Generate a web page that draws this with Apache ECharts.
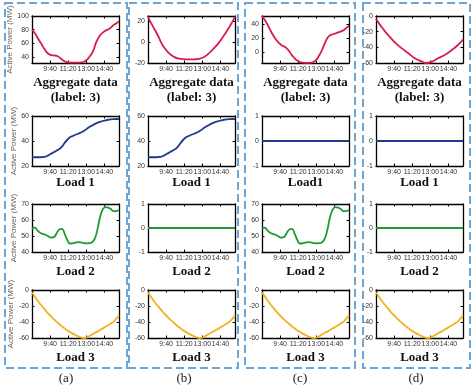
<!DOCTYPE html>
<html><head><meta charset="utf-8">
<script src="https://cdn.jsdelivr.net/npm/echarts@6/dist/echarts.min.js"></script>
<style>html,body{margin:0;padding:0;background:#fff}#c{width:474px;height:389px}</style>
</head><body><div id="c"></div>
<script>
// ---- data (minutes after 8:00) ----
const xTicks = [100, 200, 300, 400];
const xTickLabels = ['9:40', '11:20', '13:00', '14:40'];
const t15 = [0,15,30,45,60,75,90,105,120,135,150,165,180,195,210,225,240,255,270,285,300,315,330,345,360,375,390,405,420,435,450,465,480];
const load1 = [27,27,27,27,27.2,27.5,28.5,29.8,31,32.2,33.5,35.5,38.5,41,43,44,45,45.8,46.8,48,49.5,51,52.3,53.5,54.5,55.3,56,56.5,57,57.3,57.5,57.6,57.5];
const load2 = [54.5,55.2,53.5,52,51.3,50.8,49.8,49,49.3,51.5,54,54.5,51.5,47.5,45.3,45.5,45.9,46.2,46,45.6,45.4,45.5,46,48,53.5,61.5,66.5,68,67.8,66.8,65.5,65.5,66.4];
const load3 = [-3,-8,-13,-17.5,-21.5,-25.5,-29.5,-33,-36.5,-39.5,-42.5,-45.5,-48,-50.5,-52.5,-54.5,-56.3,-58,-59.3,-60,-59.5,-57.8,-55.8,-53.8,-52,-50,-48,-46,-44,-42,-39.5,-36,-31.5];
const aggA_t = [0,15,33,52,70,88,107,125,144,162,180,199,222,245,265,282,300,318,337,355,374,392,410,429,447,466,480];
const aggA = [80,75,67,59,51,45,42.4,42,40.5,37,33.5,32,31.5,31.5,31.7,32.5,35,40.5,48.5,62,71,76,79,81.5,86,89.5,92];
const aggB_t = [0,24,51,69,88,115,142,170,215,252,279,307,334,361,389,416,443,471,480];
const aggB = [24,16,7.5,1,-5,-10.5,-14,-15.8,-16.5,-16.5,-16,-14.5,-11,-6.5,-1,5.5,13,21,24.5];
const aggC_t = [0,24,52,80,108,126,145,164,182,210,238,266,294,312,331,350,368,396,424,452,480];
const aggC = [51.5,42.3,28.5,17,10,7.8,3.2,-3.7,-9.2,-13.8,-15,-15,-12,-6,3.2,14.7,22.5,26,28.5,31.7,37.7];
const aggD_t = [0,31,68,104,141,178,214,251,278,306,342,379,415,452,480];
const aggD = [-3.4,-14,-24.6,-33.7,-41,-47.6,-54,-58,-60,-58.5,-54,-49.7,-44,-37,-30];
const flat_t = [0, 480];
const flat = [0, 0];
const colLabels = ['(a)', '(b)', '(c)', '(d)'];
const rowTitles = [
  ['Aggregate data\n(label: 3)', 'Aggregate data\n(label: 3)', 'Aggregate data\n(label: 3)', 'Aggregate data\n(label: 3)'],
  ['Load 1', 'Load 1', 'Load1', 'Load 1'],
  ['Load 2', 'Load 2', 'Load 2', 'Load 2'],
  ['Load 3', 'Load 3', 'Load 3', 'Load 3']
];
const yName = 'Active Power (MW)';

// ---- styling / layout ----
const RED = '#d81c4c', BLUE = '#1f3a8a', GREEN = '#1e9a34', YEL = '#f0b21f';
const colLeft = [32, 148, 262, 376], boxW = 87;
const rowTop = [16, 116, 204, 290], rowH = [47, 50, 48, 48];
const titleY = [[83, 98], [183], [272], [358]];

const plots = [
  [
    {t: aggA_t, v: aggA, color: RED, min: 31, max: 100, ticks: [40, 60, 80, 100]},
    {t: aggB_t, v: aggB, color: RED, min: -20, max: 25, ticks: [-20, 0, 20]},
    {t: aggC_t, v: aggC, color: RED, min: -15.2, max: 51.5, ticks: [0, 20, 40]},
    {t: aggD_t, v: aggD, color: RED, min: -60, max: 0, ticks: [-60, -40, -20, 0]}
  ],
  [
    {t: t15, v: load1, color: BLUE, min: 20, max: 60, ticks: [20, 40, 60]},
    {t: t15, v: load1, color: BLUE, min: 20, max: 60, ticks: [20, 40, 60]},
    {t: flat_t, v: flat, color: BLUE, min: -1, max: 1, ticks: [-1, 0, 1]},
    {t: flat_t, v: flat, color: BLUE, min: -1, max: 1, ticks: [-1, 0, 1]}
  ],
  [
    {t: t15, v: load2, color: GREEN, min: 40, max: 70, ticks: [40, 50, 60, 70]},
    {t: flat_t, v: flat, color: GREEN, min: -1, max: 1, ticks: [-1, 0, 1]},
    {t: t15, v: load2, color: GREEN, min: 40, max: 70, ticks: [40, 50, 60, 70]},
    {t: flat_t, v: flat, color: GREEN, min: -1, max: 1, ticks: [-1, 0, 1]}
  ],
  [
    {t: t15, v: load3, color: YEL, min: -60, max: 0, ticks: [-60, -40, -20, 0]},
    {t: t15, v: load3, color: YEL, min: -60, max: 0, ticks: [-60, -40, -20, 0]},
    {t: t15, v: load3, color: YEL, min: -60, max: 0, ticks: [-60, -40, -20, 0]},
    {t: t15, v: load3, color: YEL, min: -60, max: 0, ticks: [-60, -40, -20, 0]}
  ]
];

const grids = [], xAxes = [], yAxes = [], series = [], graphics = [];
const axLine = {show: true, onZero: false, lineStyle: {color: '#000', width: 1.3}};
const tickLen = 2.5;
let gi = 0;
for (let r = 0; r < 4; r++) {
  for (let c = 0; c < 4; c++) {
    const p = plots[r][c];
    grids.push({left: colLeft[c], top: rowTop[r], width: boxW, height: rowH[r], show: false});
    xAxes.push({gridIndex: gi, type: 'value', min: 0, max: 480, position: 'bottom',
      axisLine: axLine,
      axisTick: {show: true, inside: true, length: tickLen, customValues: xTicks, lineStyle: {color: '#000', width: 1}},
      axisLabel: {show: true, customValues: xTicks, formatter: v => xTickLabels[xTicks.indexOf(v)],
        fontSize: 7, color: '#333', margin: 3, fontFamily: 'Liberation Sans'},
      splitLine: {show: false}});
    xAxes.push({gridIndex: gi, type: 'value', min: 0, max: 480, position: 'top',
      axisLine: axLine,
      axisTick: {show: true, inside: true, length: tickLen, customValues: xTicks, lineStyle: {color: '#000', width: 1}},
      axisLabel: {show: false}, splitLine: {show: false}});
    const yl = {gridIndex: gi, type: 'value', min: p.min, max: p.max, position: 'left',
      axisLine: axLine,
      axisTick: {show: true, inside: true, length: tickLen, customValues: p.ticks, lineStyle: {color: '#000', width: 1}},
      axisLabel: {show: true, customValues: p.ticks, fontSize: 7, color: '#333', margin: 3, fontFamily: 'Liberation Sans'},
      splitLine: {show: false}};
    if (c === 0) {
      yl.name = yName; yl.nameLocation = 'middle'; yl.nameGap = 14;
      yl.nameTextStyle = {fontSize: 8, color: '#666', fontFamily: 'Liberation Sans'};
    }
    yAxes.push(yl);
    yAxes.push({gridIndex: gi, type: 'value', min: p.min, max: p.max, position: 'right',
      axisLine: axLine,
      axisTick: {show: true, inside: true, length: tickLen, customValues: p.ticks, lineStyle: {color: '#000', width: 1}},
      axisLabel: {show: false}, splitLine: {show: false}});
    series.push({type: 'line', xAxisIndex: 2 * gi, yAxisIndex: 2 * gi,
      data: p.t.map((x, i) => [x, p.v[i]]), smooth: true, showSymbol: false, silent: true,
      lineStyle: {color: p.color, width: 1.8}, z: 1});
    const lines = rowTitles[r][c].split('\n');
    lines.forEach((ln, k) => {
      graphics.push({type: 'text', x: colLeft[c] + boxW / 2, y: titleY[r][k], silent: true,
        style: {text: ln, font: 'bold 13px "Liberation Serif"', fill: '#111',
          align: 'center', verticalAlign: 'middle', textAlign: 'center', textVerticalAlign: 'middle'}});
    });
    gi++;
  }
}
const frames = [[5, 122], [129, 109], [245, 110], [363, 107]];
const labX = [66, 184, 300, 416];
frames.forEach((f, c) => {
  graphics.push({type: 'rect', silent: true, shape: {x: f[0], y: 3, width: f[1], height: 365},
    style: {fill: 'none', stroke: '#6aa6d8', lineWidth: 2, lineDash: [8, 4]}});
  graphics.push({type: 'text', x: labX[c], y: 379, silent: true,
    style: {text: colLabels[c], font: '13px "Liberation Serif"', fill: '#222',
      align: 'center', verticalAlign: 'middle', textAlign: 'center', textVerticalAlign: 'middle'}});
});

const chart = echarts.init(document.getElementById('c'));
chart.setOption({
  animation: false,
  backgroundColor: '#fff',
  grid: grids, xAxis: xAxes, yAxis: yAxes, series: series,
  graphic: {elements: graphics}
});
</script>
</body></html>
